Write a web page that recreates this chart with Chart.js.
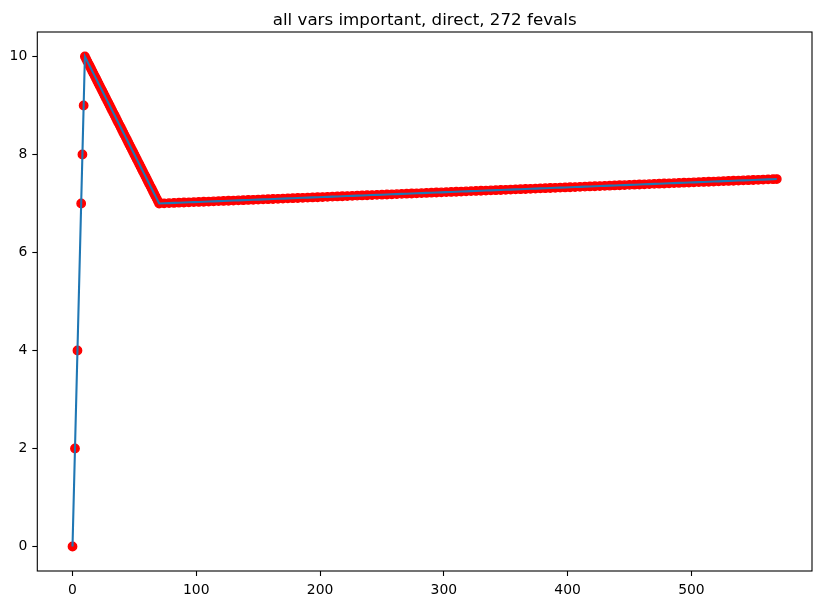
<!DOCTYPE html>
<html>
<head>
<meta charset="utf-8">
<script src="https://cdn.jsdelivr.net/npm/chart.js@4"></script>
<style>
html, body { margin: 0; padding: 0; background: #fff; }
#c { display: block; }
</style>
</head>
<body>
<canvas id="c" width="822" height="605"></canvas>
<script>
const titleText = "all vars important, direct, 272 fevals";

const xValues = [
  0, 2, 4, 7, 8, 9, 10,
  11, 12, 13, 14, 15, 16, 17, 18, 19, 20,
  21, 22, 23, 24, 25, 26, 27, 28, 29, 30,
  31, 32, 33, 34, 35, 36, 37, 38, 39, 40,
  41, 42, 43, 44, 45, 46, 47, 48, 49, 50,
  51, 52, 53, 54, 55, 56, 57, 58, 59, 60,
  61, 62, 63, 64, 65, 66, 67, 68, 69, 70,
  74, 78, 82, 86, 90, 94, 98, 102, 106, 110,
  114, 118, 122, 126, 130, 134, 138, 142, 146, 150,
  154, 158, 162, 166, 170, 174, 178, 182, 186, 190,
  194, 198, 202, 206, 210, 214, 218, 222, 226, 230,
  234, 238, 242, 246, 250, 254, 258, 262, 266, 270,
  274, 278, 282, 286, 290, 294, 298, 302, 306, 310,
  314, 318, 322, 326, 330, 334, 338, 342, 346, 350,
  354, 358, 362, 366, 370, 374, 378, 382, 386, 390,
  394, 398, 402, 406, 410, 414, 418, 422, 426, 430,
  434, 438, 442, 446, 450, 454, 458, 462, 466, 470,
  474, 478, 482, 486, 490, 494, 498, 502, 506, 510,
  514, 518, 522, 526, 530, 534, 538, 542, 546, 550,
  554, 558, 562, 566, 569
];

const yValues = [
  0, 2, 4, 7, 8, 9, 10,
  9.95, 9.9, 9.85, 9.8, 9.75, 9.7, 9.65, 9.6, 9.55, 9.5,
  9.45, 9.4, 9.35, 9.3, 9.25, 9.2, 9.15, 9.1, 9.05, 9.0,
  8.95, 8.9, 8.85, 8.8, 8.75, 8.7, 8.65, 8.6, 8.55, 8.5,
  8.45, 8.4, 8.35, 8.3, 8.25, 8.2, 8.15, 8.1, 8.05, 8.0,
  7.95, 7.9, 7.85, 7.8, 7.75, 7.7, 7.65, 7.6, 7.55, 7.5,
  7.45, 7.4, 7.35, 7.3, 7.25, 7.2, 7.15, 7.1, 7.05, 7.0,
  7.004, 7.008, 7.012, 7.016, 7.020, 7.024, 7.028, 7.032, 7.036, 7.040,
  7.044, 7.048, 7.052, 7.056, 7.060, 7.064, 7.068, 7.072, 7.076, 7.080,
  7.084, 7.088, 7.092, 7.096, 7.100, 7.104, 7.108, 7.112, 7.116, 7.120,
  7.124, 7.128, 7.132, 7.136, 7.140, 7.144, 7.148, 7.152, 7.156, 7.160,
  7.164, 7.168, 7.172, 7.176, 7.180, 7.184, 7.188, 7.192, 7.196, 7.200,
  7.204, 7.208, 7.212, 7.216, 7.220, 7.224, 7.228, 7.232, 7.236, 7.240,
  7.244, 7.248, 7.252, 7.256, 7.260, 7.264, 7.268, 7.272, 7.276, 7.280,
  7.284, 7.288, 7.292, 7.296, 7.300, 7.304, 7.308, 7.312, 7.316, 7.320,
  7.324, 7.328, 7.332, 7.336, 7.340, 7.344, 7.348, 7.352, 7.356, 7.360,
  7.364, 7.368, 7.372, 7.376, 7.380, 7.384, 7.388, 7.392, 7.396, 7.400,
  7.404, 7.408, 7.412, 7.416, 7.420, 7.424, 7.428, 7.432, 7.436, 7.440,
  7.444, 7.448, 7.452, 7.456, 7.460, 7.464, 7.468, 7.472, 7.476, 7.480,
  7.484, 7.488, 7.492, 7.496, 7.499
];

const xTicks = [0, 100, 200, 300, 400, 500];
const yTicks = [0, 2, 4, 6, 8, 10];

const points = xValues.map((x, i) => ({ x: x, y: yValues[i] }));

const frame = {
  id: 'frame',
  afterDatasetsDraw(chart) {
    const a = chart.chartArea;
    const ctx = chart.ctx;
    ctx.save();
    ctx.strokeStyle = '#000';
    ctx.lineWidth = 1.1;
    ctx.strokeRect(a.left, a.top, a.right - a.left, a.bottom - a.top);
    ctx.fillStyle = '#000';
    ctx.font = '16.7px "DejaVu Sans"';
    ctx.textAlign = 'center';
    ctx.textBaseline = 'alphabetic';
    ctx.fillText(titleText, (a.left + a.right) / 2, 24.5);
    ctx.restore();
  }
};

const tickFont = { family: 'DejaVu Sans', size: 13.9 };

new Chart(document.getElementById('c'), {
  type: 'scatter',
  data: {
    datasets: [
      {
        type: 'line',
        data: points,
        borderColor: '#1f77b4',
        borderWidth: 2.1,
        pointRadius: 0,
        tension: 0,
        fill: false,
        order: 0
      },
      {
        type: 'scatter',
        data: points,
        backgroundColor: '#ff0000',
        borderColor: '#ff0000',
        borderWidth: 1.4,
        pointRadius: 4.2,
        order: 1
      }
    ]
  },
  options: {
    responsive: false,
    animation: false,
    devicePixelRatio: 1,
    layout: { padding: { left: 0, right: 10, top: 32, bottom: 0 } },
    plugins: {
      legend: { display: false },
      tooltip: { enabled: false },
      title: { display: false }
    },
    scales: {
      x: {
        type: 'linear',
        min: -28.45,
        max: 597.45,
        afterBuildTicks(scale) { scale.ticks = xTicks.map(v => ({ value: v })); },
        afterFit(scale) { scale.height = 34; },
        grid: { display: true, drawOnChartArea: false, drawTicks: true, tickLength: 5, tickWidth: 1.1, tickColor: '#000' },
        border: { display: false },
        ticks: { color: '#000', font: tickFont, padding: 6, maxRotation: 0, autoSkip: false }
      },
      y: {
        type: 'linear',
        min: -0.5,
        max: 10.5,
        afterBuildTicks(scale) { scale.ticks = yTicks.map(v => ({ value: v })); },
        afterFit(scale) { scale.width = 37.3; },
        grid: { display: true, drawOnChartArea: false, drawTicks: true, tickLength: 5, tickWidth: 1.1, tickColor: '#000' },
        border: { display: false },
        ticks: { color: '#000', font: tickFont, padding: 5, autoSkip: false }
      }
    }
  },
  plugins: [frame]
});
</script>
</body>
</html>
